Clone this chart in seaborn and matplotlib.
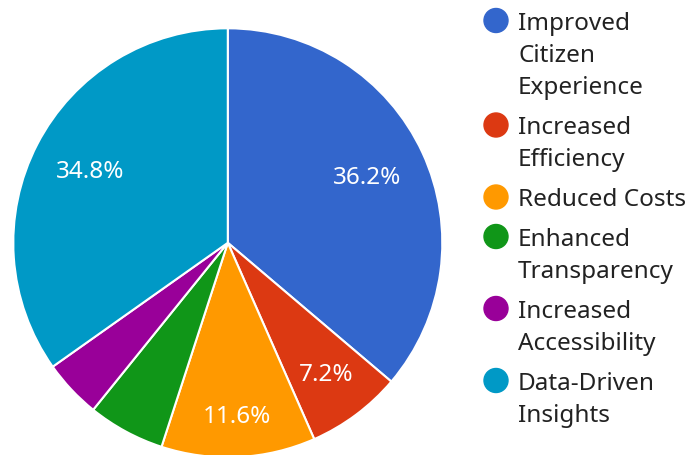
import matplotlib.pyplot as plt
import numpy as np
import seaborn as sns
from matplotlib.patches import Ellipse

categories = ['Improved Citizen Experience', 'Increased Efficiency', 'Reduced Costs',
              'Enhanced Transparency', 'Increased Accessibility', 'Data-Driven Insights']
legend_labels = ['Improved\nCitizen\nExperience', 'Increased\nEfficiency', 'Reduced Costs',
                 'Enhanced\nTransparency', 'Increased\nAccessibility', 'Data-Driven\nInsights']
shares = [36.2, 7.2, 11.6, 5.8, 4.4, 34.8]
colors = ['#3366cc', '#dc3912', '#ff9900', '#109618', '#990099', '#0099c6']

# label radius per slice (as fraction of radius); small slices get no label
label_dist = [0.714, 0.771, 0.815, 0, 0, 0.721]


def main():
    sns.set_style('white')
    plt.rcParams['font.family'] = ['Noto Sans', 'DejaVu Sans']

    W, H = 688, 455
    fig = plt.figure(figsize=(W / 100, H / 100), dpi=100)
    cx, cy, r = 227.8, 242.8, 214.5
    ax = fig.add_axes([(cx - r) / W, (H - cy - r) / H, 2 * r / W, 2 * r / H])

    wedges, _ = ax.pie(shares, colors=sns.color_palette(colors), startangle=90, counterclock=False,
                       wedgeprops=dict(edgecolor='white', linewidth=1.5), radius=1)
    ax.set_xlim(-1, 1)
    ax.set_ylim(-1, 1)
    ax.set_aspect('auto')

    for w, val, d in zip(wedges, shares, label_dist):
        if d == 0:
            continue
        mid = np.deg2rad((w.theta1 + w.theta2) / 2)
        ax.text(d * np.cos(mid), d * np.sin(mid), f'{val:.1f}%', color='white',
                fontsize=17.5, ha='center', va='center')

    # legend drawn by hand so the markers line up with the first line of text
    line_h = 32.5
    gap = 7
    y = 20.5
    for lab, col in zip(legend_labels, colors):
        n = lab.count('\n') + 1
        fig.patches.append(Ellipse((496 / W, (H - y) / H), 24 / W, 24 / H, color=col,
                                   transform=fig.transFigure, figure=fig))
        for i, line in enumerate(lab.split('\n')):
            fig.text(518 / W, (H - y - i * line_h) / H, line, fontsize=17.5,
                     color='#222222', ha='left', va='center_baseline')
        y += n * line_h + gap

    fig.savefig('out.png', dpi=100)


if __name__ == '__main__':
    main()
